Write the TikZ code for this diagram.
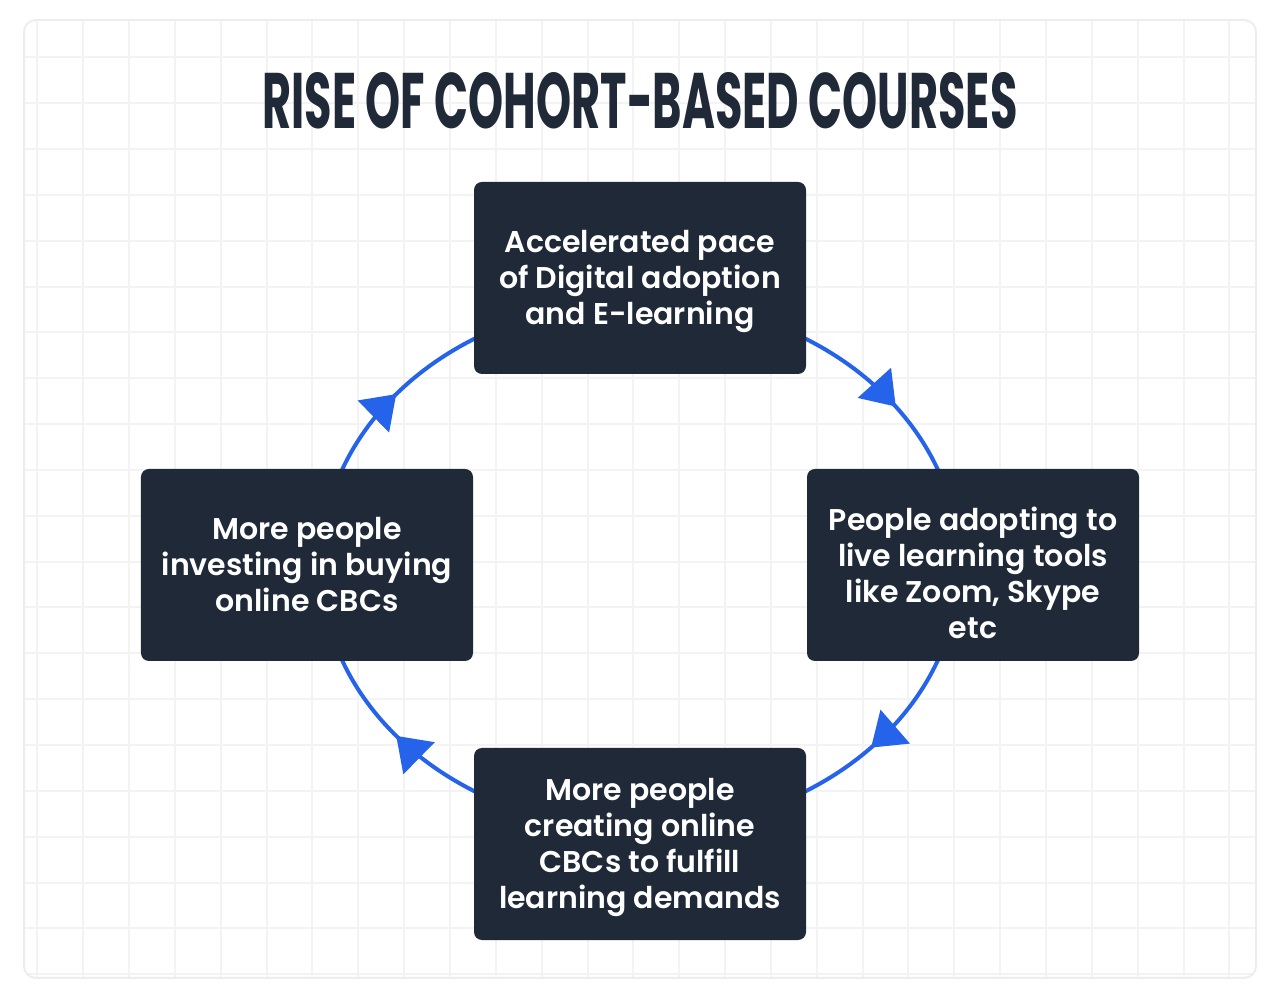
\documentclass[tikz,border=0pt]{standalone}
\usepackage{graphicx}
\usepackage{fontspec}
\setmainfont{Poppins}
\newfontfamily\boxfont{Poppins SemiBold}
\usepackage{tikz}
\usetikzlibrary{calc,positioning,arrows.meta,decorations.markings}

\definecolor{navy}{HTML}{1F2937}
\definecolor{cycblue}{HTML}{2563EB}
\definecolor{gridgray}{HTML}{F3F3F3}
\definecolor{framegray}{HTML}{EDEDED}

% box text size and one line of it
\newcommand{\boxtext}{\boxfont\fontsize{30bp}{36bp}\selectfont\lineskiplimit=-100bp\relax}
\newcommand{\ls}{\rule[-9.3bp]{0pt}{40bp}}

\begin{document}
\begin{tikzpicture}[x=1bp,y=1bp,node distance=1cm,>=Triangle,
  box/.style={fill=navy, rounded corners=8bp, minimum width=332bp, minimum height=192bp,
    text=white, align=center, font=\boxtext},
  cyc/.style={cycblue, line width=4bp, postaction=decorate},
  midtip/.style={decoration={markings,
    mark=at position #1 with {\arrow{Triangle[length=32bp,width=44bp]}}}},
  gridline/.style={gridgray, line width=2bp}]

  \useasboundingbox (0,0) rectangle (1280,1000);

  %%%% paper and grid
  \begin{scope}
    \clip[rounded corners=12bp] (24,22) rectangle (1256,980);
    \fill[white] (24,22) rectangle (1256,980);
    \foreach \i in {0,...,26}
      \draw[gridline] ({37.3+45.85*\i},0) -- ++(0,1000);
    \foreach \j in {0,...,20}
      \draw[gridline] (0,{942.7-45.85*\j}) -- ++(1280,0);
  \end{scope}
  \draw[framegray, line width=2bp, rounded corners=12bp] (24,22) rectangle (1256,980);

  \node[anchor=base, text=navy] (title) at (640,871.7)
    {\resizebox{755bp}{56bp}{\bfseries RISE OF COHORT-BASED COURSES}};

  %%%% cycle
  \coordinate (ctr) at (640,435);
  \coordinate (acc_out) at ($(ctr)+(61:319.3 and 264.6)$);
  \coordinate (live_out) at ($(ctr)+(-18:319.3 and 264.6)$);
  \coordinate (make_out) at ($(ctr)+(-119:319.3 and 264.6)$);
  \coordinate (buy_out) at ($(ctr)+(162:319.3 and 264.6)$);

  \draw[cyc, midtip=0.58] (acc_out) arc[start angle=61, end angle=18, x radius=319.3, y radius=264.6];
  \draw[cyc, midtip=0.58] (live_out) arc[start angle=-18, end angle=-61, x radius=319.3, y radius=264.6];
  \draw[cyc, midtip=0.5] (make_out) arc[start angle=-119, end angle=-162, x radius=319.3, y radius=264.6];
  \draw[cyc, midtip=0.5] (buy_out) arc[start angle=162, end angle=119, x radius=319.3, y radius=264.6];

  %%%% steps
  \node[box, above of=ctr, node distance=287bp] (acc)
    {\ls Accelerated pace\\\ls of Digital adoption\\\ls and E-learning};
  \node[box, right of=ctr, node distance=333bp] (live)
    {\rule[-9.3bp]{0pt}{58bp}People adopting to\\\ls live learning tools\\\ls like Zoom, Skype\\\ls etc};
  \node[box, below of=ctr, node distance=279bp] (make)
    {\ls More people\\\ls creating online\\\ls CBCs to fulfill\\\ls learning demands};
  \node[box, left of=ctr, node distance=333bp] (buy)
    {\ls More people\\\ls investing in buying\\\ls online CBCs};

\end{tikzpicture}
\end{document}
